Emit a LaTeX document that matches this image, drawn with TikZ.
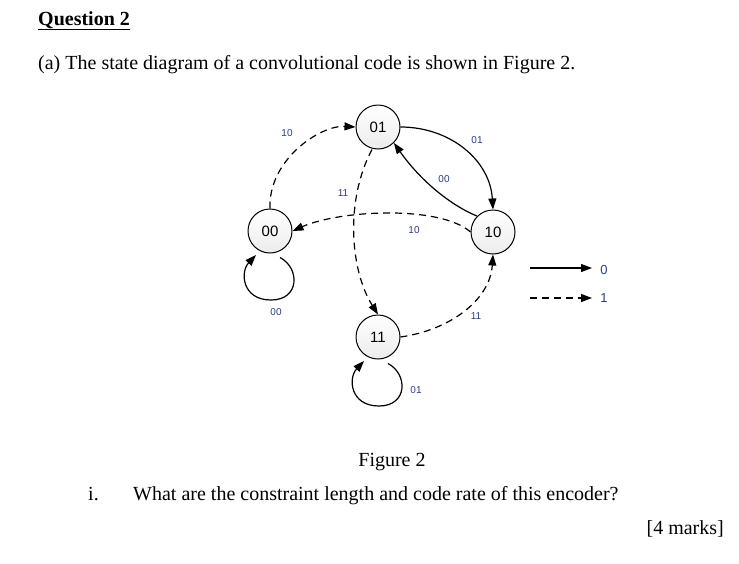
\documentclass[tikz,border=0pt]{standalone}
\usepackage{fontspec}
\setmainfont{Liberation Serif}
\newfontfamily\sansf{Liberation Sans}
\usetikzlibrary{arrows.meta}
\definecolor{lab}{RGB}{40,60,140}
\begin{document}
\begin{tikzpicture}[x=1pt,y=-1pt,
 st/.style={circle,draw,line width=1pt,minimum size=44pt,inner sep=0pt,font=\sansf\fontsize{15}{15}\selectfont,top color=white,bottom color=gray!15},
 el/.style={font=\sansf\fontsize{10}{10}\selectfont,text=lab},
 ar/.style={line width=1.2pt,-{Triangle[length=11pt,width=8pt]}},
 ds/.style={ar,dash pattern=on 7pt off 5pt},
 txt/.style={font=\fontsize{20}{24}\selectfont,anchor=base west,inner sep=0pt}]
\useasboundingbox (0,0) rectangle (739,563);
\node[txt,font=\bfseries\fontsize{20}{24}\selectfont] (q) at (38,25) {\underline{Question 2}};
\node[txt] (a) at (38,69) {(a) The state diagram of a convolutional code is shown in Figure 2.};
\node[st] (s01) at (378,127) {01};
\node[st] (s00) at (270,231) {00};
\node[st] (s10) at (493,232) {10};
\node[st] (s11) at (378,337) {11};
\draw[ds] (s00.north) .. controls (268,160) and (320,125) .. (s01.west);
\node[el] (l1) at (287,133) {10};
\draw[ar] (s01.east) .. controls (450,127) and (490,160) .. (s10.north);
\node[el] (l2) at (477,140) {01};
\draw[ar] (s10.north west) .. controls (450,205) and (420,180) .. (s01.south east);
\node[el] (l3) at (444,179) {00};
\draw[ds] (s10.west) .. controls (440,205) and (340,210) .. (s00.east);
\node[el] (l4) at (414,230) {10};
\draw[ds] (s01.south) ++(-6,0) coordinate (c1) .. controls (345,200) and (350,270) .. (s11.north);
\node[el] (l5) at (343,193) {11};
\draw[ds] (s11.east) .. controls (450,330) and (490,300) .. (s10.south);
\node[el] (l6) at (476,316) {11};
\draw[ar] (s00.south) ++(10,4) coordinate (c2) .. controls (300,268) and (300,300) .. (271,300) .. controls (242,300) and (240,272) .. (256,255);
\node[el] (l7) at (276,312) {00};
\draw[ar] (s11.south) ++(10,4) coordinate (c3) .. controls (408,374) and (408,406) .. (379,406) .. controls (350,406) and (348,378) .. (364,361);
\node[el] (l8) at (416,390) {01};
\coordinate (a1) at (530,268); \coordinate (b1) at (592,268);
\coordinate (a2) at (530,298); \coordinate (b2) at (592,298);
\draw[ar] (a1) -- (b1);
\draw[ds] (a2) -- (b2);
\node[font=\sansf\fontsize{13}{13}\selectfont,text=lab] (z) at (604,270) {0};
\node[font=\sansf\fontsize{13}{13}\selectfont,text=lab] (o) at (604,298) {1};
\node[txt,anchor=base] (f) at (392,466) {Figure 2};
\node[txt] (i) at (88,500) {i.};
\node[txt] (w) at (133,500) {What are the constraint length and code rate of this encoder?};
\node[txt,anchor=base east] (m) at (724,534) {[4 marks]};
\end{tikzpicture}
\end{document}
